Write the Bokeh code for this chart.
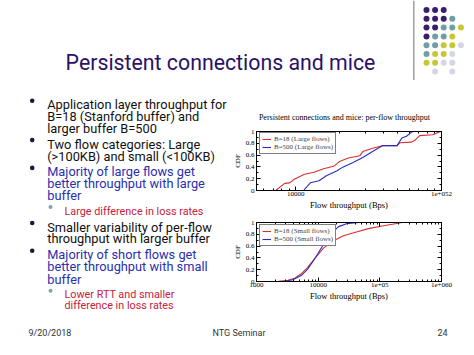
from bokeh.plotting import figure
from bokeh.layouts import column, row
from bokeh.models import (Range1d, FixedTicker, LinearAxis, LogAxis, Span,
                          Legend, LegendItem, ColumnDataSource, CustomJSTickFormatter)
from bokeh.embed import file_html
from bokeh.resources import INLINE
from bokeh.core.properties import value

# ---------------- chart data ----------------
large_b18_bps = [7280, 8400, 9080, 9770, 11480, 13340, 15490, 18200, 19950, 22910, 27540,
                 28840, 33650, 39260, 49550, 52120, 62370, 65610, 70790, 87100, 96600, 100000]
large_b18_cdf = [0, 0.12, 0.13, 0.19, 0.275, 0.31, 0.37, 0.41, 0.49, 0.55, 0.59,
                 0.66, 0.715, 0.76, 0.76, 0.81, 0.82, 0.85, 0.93, 0.945, 0.99, 1.0]
large_b500_bps = [11320, 12590, 14450, 16220, 19050, 21180, 24550, 28840, 33650, 39260,
                  49550, 53460, 57540, 62370, 64570]
large_b500_cdf = [0, 0.13, 0.165, 0.25, 0.33, 0.40, 0.47, 0.56, 0.66, 0.76,
                  0.76, 0.89, 0.92, 0.99, 1.0]
small_b18_bps = [1000, 2290, 3240, 4170, 5310, 6760, 9120, 12300, 17780, 25700, 41690,
                 67610, 109600, 177800, 229000]
small_b18_cdf = [0, 0.005, 0.02, 0.056, 0.13, 0.24, 0.41, 0.57, 0.69, 0.775, 0.84,
                 0.90, 0.94, 0.98, 1.0]
small_b500_bps = [1000, 2880, 3890, 5310, 6760, 9120, 12300, 15850, 21380, 28840, 44670]
small_b500_cdf = [0, 0.005, 0.03, 0.10, 0.21, 0.41, 0.635, 0.80, 0.93, 0.98, 1.0]

cdf_ticks = [0, 0.2, 0.4, 0.6, 0.8, 1]
cdf_tick_labels = ["0", "0.2", "0.4", "0.6", "0.8", "1"]
cdf_minor = [0.1, 0.3, 0.5, 0.7, 0.9]
large_x_range = (5380, 100000)
large_x_ticks = [10000, 100000]
large_x_labels = ["10000", "1e+052"]
small_x_range = (1000, 1000000)
small_x_ticks = [1000, 10000, 100000, 1000000]
small_x_labels = ["1000", "10000", "1e+05", "1e+060"]

chart1_title = "Persistent connections and mice: per-flow throughput"
x_label = "Flow throughput (Bps)"
y_label = "CDF"
legend_large = ["B=18 (Large flows)", "B=500 (Large flows)"]
legend_small = ["B=18 (Small flows)", "B=500 (Small flows)"]

# ---------------- slide text ----------------
slide_title = "Persistent connections and mice"
body_lines = [
    "Application layer throughput for", "B=18 (Stanford buffer) and", "larger buffer B=500",
    "Two flow categories: Large", "(>100KB) and small (<100KB)",
    "Majority of large flows get", "better throughput with large", "buffer",
    "Large difference in loss rates",
    "Smaller variability of per-flow", "throughput with larger buffer",
    "Majority of short flows get", "better throughput with small", "buffer",
    "Lower RTT and smaller", "difference in loss rates",
]
body_level = [0, 0, 0, 0, 0, 0, 0, 0, 1, 0, 0, 0, 0, 0, 1, 1]
body_kind = ["k", "k", "k", "k", "k", "b", "b", "b", "r", "k", "k", "b", "b", "b", "r", "r"]
body_baseline = [104.3, 116.2, 127.8, 143.6, 155.5, 171.4, 183.1, 195.2, 210.5,
                 226.5, 238.2, 254.2, 266.0, 278.6, 294.2, 305.4]
bullet_first = [True, False, False, True, False, True, False, False, True,
                True, False, True, False, False, True, False]
footer_texts = ["9/20/2018", "NTG Seminar", "24"]

TEXT_FONT = "Roboto"
SERIF = "Liberation Serif"
kind_color = {"k": "#111111", "b": "#2b2fb0", "r": "#c8203c"}
RED = "#d83030"
BLUE = "#2b2bc0"


def blank_fig(w, h, y0, y1, x0=0):
    f = figure(width=w, height=h, x_range=Range1d(x0, x0 + w), y_range=Range1d(y1, y0),
               x_axis_type=None, y_axis_type=None, toolbar_location=None,
               output_backend="svg", min_border=0, outline_line_color=None)
    f.grid.visible = False
    return f


# ---------------- top band: title + dot decoration ----------------
top = blank_fig(474, 80, 0, 80)
top.text(x=[220], y=[62], text=[slide_title], text_font=value(TEXT_FONT),
         text_font_size="21.3px", text_color="#2b1166", text_align="center",
         text_baseline="alphabetic")
top.add_layout(Span(location=413.3, dimension="height", line_color="#a0a0a0", line_width=1.5))
dot_rows = ["DDD..", "DDDT.", "DDTTY", "DTTY.", "TTYYL", "TYYL.", "YYLL.", ".L.L."]
dot_col = {"D": "#3b1d6e", "T": "#6f9ea3", "Y": "#c6c833", "L": "#d3d6e6"}
dx, dy, dc = [], [], []
for i, r in enumerate(dot_rows):
    for j, ch in enumerate(r):
        if ch != ".":
            dx.append(426 + 8.6 * j)
            dy.append(9.5 + 8.8 * i)
            dc.append(dot_col[ch])
top.scatter(dx, dy, size=6, color=dc, line_color=None)

# ---------------- left text column ----------------
left = blank_fig(230, 240, 80, 320)
tx = [46.7 if lv == 0 else 64 for lv in body_level]
tsize = ["12.8px" if lv == 0 else "10.8px" for lv in body_level]
tcol = [kind_color[k] for k in body_kind]
left.text(x="x", y="y", text="t", text_color="c", text_font_size="s",
          text_font=value(TEXT_FONT), text_baseline="alphabetic",
          source=ColumnDataSource(dict(x=tx, y=body_baseline, t=body_lines, c=tcol, s=tsize)))
bx, by, bc, bs = [], [], [], []
for lv, yb, first in zip(body_level, body_baseline, bullet_first):
    if first:
        bx.append(31.7 if lv == 0 else 50)
        by.append(yb - 4)
        bc.append("#1a1a3a" if lv == 0 else "#7fa3a6")
        bs.append(4.6 if lv == 0 else 4)
left.scatter(bx, by, size=bs, color=bc, line_color=None, marker="circle")

# ---------------- chart title strip ----------------
title_strip = blank_fig(244, 45, 80, 125, x0=230)
title_strip.text(x=[346], y=[116.7], text=[chart1_title], text_font=value(SERIF),
                 text_font_size="8px", text_color="black", text_align="center",
                 text_baseline="alphabetic")


# ---------------- charts ----------------
def log_minor(lo, hi):
    out = []
    d = 1
    while d <= hi:
        for k in range(2, 10):
            v = k * d
            if lo < v < hi:
                out.append(v)
        d *= 10
    return out


def make_chart(height, btop, bbottom, xr, xticks, xlabels, series, legend_labels, leg_loc):
    p = figure(width=244, height=height, x_axis_type="log", x_range=Range1d(*xr),
               y_range=Range1d(0, 1), toolbar_location=None, output_backend="svg",
               min_border_left=21, min_border_right=33, min_border_top=btop,
               min_border_bottom=bbottom, outline_line_color="black", outline_line_width=1)
    p.grid.visible = False
    bottom_ax = p.below[0]
    left_ax = p.left[0]
    xt = FixedTicker(ticks=xticks, minor_ticks=log_minor(*xr))
    yt = FixedTicker(ticks=cdf_ticks, minor_ticks=cdf_minor)
    blank = CustomJSTickFormatter(code="return ''")
    above = LogAxis(ticker=xt, formatter=blank, major_label_standoff=0)
    right = LinearAxis(ticker=yt, formatter=blank, major_label_standoff=0)
    p.add_layout(above, "above")
    p.add_layout(right, "right")
    bottom_ax.ticker = xt
    left_ax.ticker = yt
    bottom_ax.major_label_overrides = {t: l for t, l in zip(xticks, xlabels)}
    left_ax.major_label_overrides = {t: l for t, l in zip(cdf_ticks, cdf_tick_labels)}
    for ax in [bottom_ax, left_ax, above, right]:
        ax.major_tick_in = 4
        ax.major_tick_out = 0
        ax.minor_tick_in = 2
        ax.minor_tick_out = 0
        ax.axis_line_color = "black"
        ax.major_tick_line_color = "black"
        ax.minor_tick_line_color = "black"
        ax.major_label_text_font = SERIF
        ax.major_label_text_font_size = "7px"
        ax.major_label_text_color = "black"
    bottom_ax.major_label_standoff = 1
    left_ax.major_label_standoff = 2
    bottom_ax.axis_label = x_label
    left_ax.axis_label = y_label
    for ax in [bottom_ax, left_ax]:
        ax.axis_label_text_font = SERIF
        ax.axis_label_text_font_style = "normal"
        ax.axis_label_text_color = "black"
        ax.axis_label_standoff = 1
    bottom_ax.axis_label_text_font_size = "8.5px"
    left_ax.axis_label_text_font_size = "7px"
    rends = []
    for (xs, ys, col) in series:
        rends.append(p.line(xs, ys, line_color=col, line_width=1.1))
    leg = Legend(items=[LegendItem(label=l, renderers=[r]) for l, r in zip(legend_labels, rends)],
                 location=leg_loc, margin=0, padding=2, spacing=0,
                 glyph_width=9, glyph_height=8, label_height=8, label_standoff=3,
                 label_text_font=SERIF, label_text_font_size="7px",
                 border_line_color="black", border_line_width=1,
                 background_fill_color="white", background_fill_alpha=1)
    p.add_layout(leg)
    return p


chart1 = make_chart(87, 6, 20, large_x_range, large_x_ticks, large_x_labels,
                    [(large_b18_bps, large_b18_cdf, RED), (large_b500_bps, large_b500_cdf, BLUE)],
                    legend_large, (3, 36))
chart2 = make_chart(108, 10, 39, small_x_range, small_x_ticks, small_x_labels,
                    [(small_b18_bps, small_b18_cdf, RED), (small_b500_bps, small_b500_cdf, BLUE)],
                    legend_small, (3, 35))

right_col = column(title_strip, chart1, chart2, spacing=0)
middle = row(left, right_col, spacing=0)

# ---------------- footer ----------------
foot = blank_fig(474, 35, 320, 355)
foot.text(x=[28, 212, 437], y=[332, 332, 332], text=footer_texts, text_font=value(TEXT_FONT),
          text_font_size="9px", text_color="#333333", text_baseline="alphabetic")

page = column(top, middle, foot, spacing=0)
open("out.html", "w").write(file_html(page, INLINE))
